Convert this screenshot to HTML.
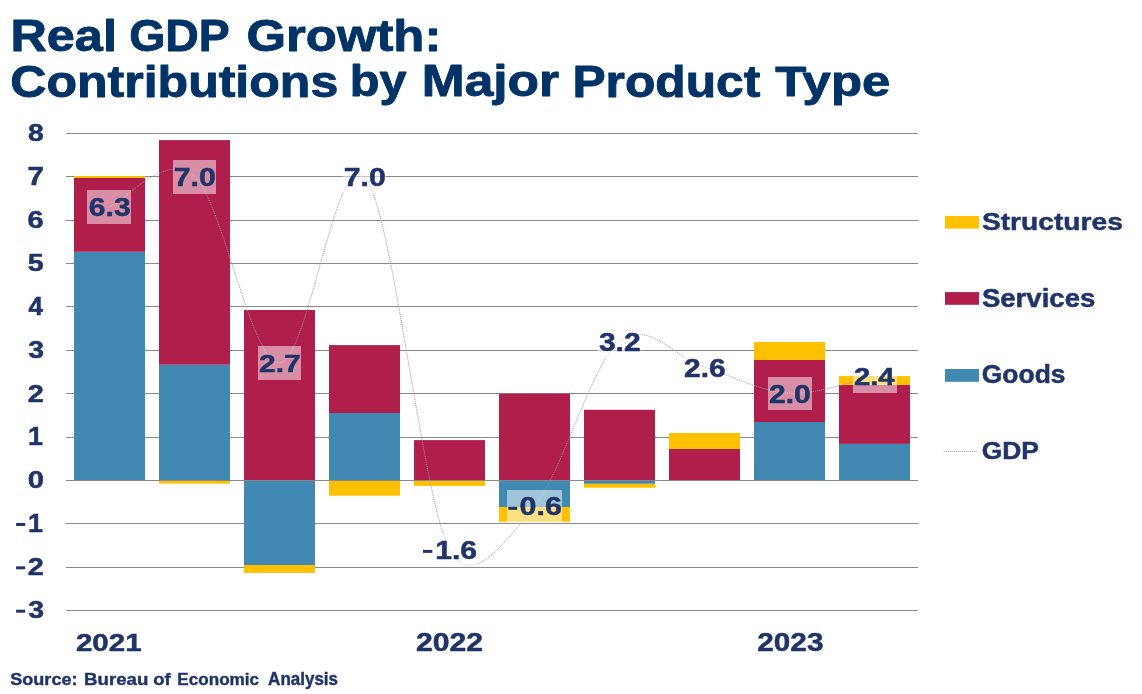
<!DOCTYPE html>
<html><head><meta charset="utf-8"><style>
html,body{margin:0;padding:0;background:#fff;width:1142px;height:694px;overflow:hidden}
svg{display:block;will-change:transform}
text{font-family:"Liberation Sans",sans-serif;font-weight:bold}
</style></head><body>
<svg width="1142" height="694" viewBox="0 0 1142 694">
<rect width="1142" height="694" fill="#fff"/>
<rect x="66" y="133" width="852" height="1" fill="#898989"/>
<rect x="66" y="176" width="852" height="1" fill="#898989"/>
<rect x="66" y="220" width="852" height="1" fill="#898989"/>
<rect x="66" y="263" width="852" height="1" fill="#898989"/>
<rect x="66" y="306" width="852" height="1" fill="#898989"/>
<rect x="66" y="350" width="852" height="1" fill="#898989"/>
<rect x="66" y="393" width="852" height="1" fill="#898989"/>
<rect x="66" y="437" width="852" height="1" fill="#898989"/>
<rect x="66" y="523" width="852" height="1" fill="#898989"/>
<rect x="66" y="567" width="852" height="1" fill="#898989"/>
<rect x="66" y="610" width="852" height="1" fill="#898989"/>
<rect x="74.00" y="251.80" width="71.00" height="228.20" fill="#4189b2" />
<rect x="74.00" y="178.00" width="71.00" height="73.80" fill="#b01e4c" />
<rect x="74.00" y="176.00" width="71.00" height="2.00" fill="#ffc000" />
<rect x="159.00" y="364.70" width="71.00" height="115.30" fill="#4189b2" />
<rect x="159.00" y="140.10" width="71.00" height="224.60" fill="#b01e4c" />
<rect x="159.00" y="480.00" width="71.00" height="3.70" fill="#ffc000" />
<rect x="244.00" y="310.00" width="71.00" height="170.00" fill="#b01e4c" />
<rect x="244.00" y="480.00" width="71.00" height="85.00" fill="#4189b2" />
<rect x="244.00" y="565.00" width="71.00" height="7.90" fill="#ffc000" />
<rect x="329.00" y="413.00" width="71.00" height="67.00" fill="#4189b2" />
<rect x="329.00" y="345.10" width="71.00" height="67.90" fill="#b01e4c" />
<rect x="329.00" y="480.00" width="71.00" height="15.70" fill="#ffc000" />
<rect x="414.00" y="440.10" width="71.00" height="39.90" fill="#b01e4c" />
<rect x="414.00" y="480.00" width="71.00" height="5.90" fill="#ffc000" />
<rect x="499.00" y="393.70" width="71.00" height="86.30" fill="#b01e4c" />
<rect x="499.00" y="480.00" width="71.00" height="27.00" fill="#4189b2" />
<rect x="499.00" y="507.00" width="71.00" height="14.80" fill="#ffc000" />
<rect x="584.00" y="409.80" width="71.00" height="70.20" fill="#b01e4c" />
<rect x="584.00" y="480.00" width="71.00" height="3.80" fill="#4189b2" />
<rect x="584.00" y="483.80" width="71.00" height="3.90" fill="#ffc000" />
<rect x="669.00" y="448.90" width="71.00" height="31.10" fill="#b01e4c" />
<rect x="669.00" y="433.00" width="71.00" height="15.90" fill="#ffc000" />
<rect x="754.00" y="422.00" width="71.00" height="58.00" fill="#4189b2" />
<rect x="754.00" y="360.00" width="71.00" height="62.00" fill="#b01e4c" />
<rect x="754.00" y="342.00" width="71.00" height="18.00" fill="#ffc000" />
<rect x="839.00" y="443.90" width="71.00" height="36.10" fill="#4189b2" />
<rect x="839.00" y="384.90" width="71.00" height="59.00" fill="#b01e4c" />
<rect x="839.00" y="376.10" width="71.00" height="8.80" fill="#ffc000" />
<rect x="66" y="480" width="852" height="1" fill="#898989"/>
<path d="M109.50,206.81 C123.67,201.75 166.17,150.43 194.50,176.45 C222.83,202.47 251.17,362.92 279.50,362.92 C307.83,362.92 336.17,145.37 364.50,176.45 C392.83,207.53 421.17,494.45 449.50,549.38 C471.37,591.78 506.17,540.71 534.50,506.02 C562.83,471.33 591.17,364.36 619.50,341.24 C647.83,318.11 676.17,358.58 704.50,367.25 C732.83,375.93 761.17,391.83 789.50,393.27 C817.83,394.72 860.33,378.82 874.50,375.93" fill="none" stroke="#999999" stroke-width="1" stroke-dasharray="1 1"/>
<rect x="87.00" y="190.00" width="44.00" height="34.00" fill="rgba(255,255,255,0.5)" />
<rect x="173.00" y="160.00" width="43.00" height="34.00" fill="rgba(255,255,255,0.5)" />
<rect x="258.00" y="346.00" width="43.00" height="34.00" fill="rgba(255,255,255,0.5)" />
<rect x="343.00" y="160.00" width="43.00" height="34.00" fill="rgba(255,255,255,0.5)" />
<rect x="422.00" y="533.00" width="55.00" height="34.00" fill="rgba(255,255,255,0.5)" />
<rect x="507.00" y="490.00" width="55.00" height="33.00" fill="rgba(255,255,255,0.5)" />
<rect x="598.00" y="325.00" width="43.00" height="33.00" fill="rgba(255,255,255,0.5)" />
<rect x="683.00" y="351.00" width="43.00" height="33.00" fill="rgba(255,255,255,0.5)" />
<rect x="768.00" y="377.00" width="44.00" height="33.00" fill="rgba(255,255,255,0.5)" />
<rect x="853.00" y="359.00" width="44.00" height="34.00" fill="rgba(255,255,255,0.5)" />
<text transform="translate(88.850,215.553) scale(1.18521,1)" font-size="25.371" fill="#1f3469" stroke="#1f3469" stroke-width="0.500" stroke-linejoin="round">6.3</text>
<text transform="translate(173.819,185.692) scale(1.19230,1)" font-size="25.335" fill="#1f3469" stroke="#1f3469" stroke-width="0.500" stroke-linejoin="round">7.0</text>
<text transform="translate(259.063,371.927) scale(1.23403,1)" font-size="24.309" fill="#1f3469" stroke="#1f3469" stroke-width="0.500" stroke-linejoin="round">2.7</text>
<text transform="translate(343.819,185.692) scale(1.19230,1)" font-size="25.335" fill="#1f3469" stroke="#1f3469" stroke-width="0.500" stroke-linejoin="round">7.0</text>
<rect x="423.00" y="549.88" width="9.30" height="3.00" fill="#1f3469" />
<text transform="translate(435.335,558.620) scale(1.18478,1)" font-size="25.335" fill="#1f3469" stroke="#1f3469" stroke-width="0.500" stroke-linejoin="round">1.6</text>
<rect x="508.30" y="506.82" width="8.90" height="3.00" fill="#1f3469" />
<text transform="translate(519.563,514.761) scale(1.19779,1)" font-size="25.385" fill="#1f3469" stroke="#1f3469" stroke-width="0.500" stroke-linejoin="round">0.6</text>
<text transform="translate(598.904,350.978) scale(1.18464,1)" font-size="25.364" fill="#1f3469" stroke="#1f3469" stroke-width="0.500" stroke-linejoin="round">3.2</text>
<text transform="translate(684.035,376.999) scale(1.17929,1)" font-size="25.371" fill="#1f3469" stroke="#1f3469" stroke-width="0.500" stroke-linejoin="round">2.6</text>
<text transform="translate(769.029,402.516) scale(1.18319,1)" font-size="25.364" fill="#1f3469" stroke="#1f3469" stroke-width="0.500" stroke-linejoin="round">2.0</text>
<text transform="translate(853.912,384.936) scale(1.20651,1)" font-size="24.309" fill="#1f3469" stroke="#1f3469" stroke-width="0.500" stroke-linejoin="round">2.4</text>
<text transform="translate(28.041,140.766) scale(1.16730,1)" font-size="24.288" fill="#1f3469" stroke="#1f3469" stroke-width="0.500" stroke-linejoin="round">8</text>
<text transform="translate(27.541,184.844) scale(1.18898,1)" font-size="24.908" fill="#1f3469" stroke="#1f3469" stroke-width="0.500" stroke-linejoin="round">7</text>
<text transform="translate(27.580,227.996) scale(1.19182,1)" font-size="24.288" fill="#1f3469" stroke="#1f3469" stroke-width="0.500" stroke-linejoin="round">6</text>
<text transform="translate(27.672,270.840) scale(1.16290,1)" font-size="24.587" fill="#1f3469" stroke="#1f3469" stroke-width="0.500" stroke-linejoin="round">5</text>
<text transform="translate(28.453,314.936) scale(1.04177,1)" font-size="24.908" fill="#1f3469" stroke="#1f3469" stroke-width="0.500" stroke-linejoin="round">4</text>
<text transform="translate(28.165,357.580) scale(1.17252,1)" font-size="24.275" fill="#1f3469" stroke="#1f3469" stroke-width="0.500" stroke-linejoin="round">3</text>
<text transform="translate(27.744,401.674) scale(1.17564,1)" font-size="24.587" fill="#1f3469" stroke="#1f3469" stroke-width="0.500" stroke-linejoin="round">2</text>
<text transform="translate(27.968,444.529) scale(1.07501,1)" font-size="24.908" fill="#1f3469" stroke="#1f3469" stroke-width="0.500" stroke-linejoin="round">1</text>
<text transform="translate(27.676,487.689) scale(1.20264,1)" font-size="24.323" fill="#1f3469" stroke="#1f3469" stroke-width="0.500" stroke-linejoin="round">0</text>
<text transform="translate(27.968,531.755) scale(1.07501,1)" font-size="24.908" fill="#1f3469" stroke="#1f3469" stroke-width="0.500" stroke-linejoin="round">1</text>
<rect x="16.10" y="522.96" width="9.10" height="3.00" fill="#1f3469" />
<text transform="translate(27.744,574.630) scale(1.17564,1)" font-size="24.587" fill="#1f3469" stroke="#1f3469" stroke-width="0.500" stroke-linejoin="round">2</text>
<rect x="16.10" y="566.33" width="9.10" height="3.00" fill="#1f3469" />
<text transform="translate(28.165,617.766) scale(1.17252,1)" font-size="24.275" fill="#1f3469" stroke="#1f3469" stroke-width="0.500" stroke-linejoin="round">3</text>
<rect x="16.10" y="609.69" width="9.10" height="3.00" fill="#1f3469" />
<text transform="translate(75.919,650.600) scale(1.19193,1)" font-size="24.783" fill="#1f3469" stroke="#1f3469" stroke-width="0.500" stroke-linejoin="round">2021</text>
<text transform="translate(416.029,650.883) scale(1.17622,1)" font-size="25.651" fill="#1f3469" stroke="#1f3469" stroke-width="0.500" stroke-linejoin="round">2022</text>
<text transform="translate(757.318,650.883) scale(1.15929,1)" font-size="25.651" fill="#1f3469" stroke="#1f3469" stroke-width="0.500" stroke-linejoin="round">2023</text>
<text transform="translate(10.433,50.875) scale(1.12047,1)" font-size="44.985" fill="#003366" stroke="#003366" stroke-width="0.900" stroke-linejoin="round">Real</text>
<text transform="translate(129.137,50.823) scale(1.03494,1)" font-size="44.854" fill="#003366" stroke="#003366" stroke-width="0.900" stroke-linejoin="round">GDP</text>
<text transform="translate(246.482,50.875) scale(1.13061,1)" font-size="44.985" fill="#003366" stroke="#003366" stroke-width="0.900" stroke-linejoin="round">Growth:</text>
<text transform="translate(10.317,96.896) scale(1.13275,1)" font-size="44.180" fill="#003366" stroke="#003366" stroke-width="0.900" stroke-linejoin="round">Contributions</text>
<text transform="translate(349.743,95.802) scale(1.10608,1)" font-size="43.908" fill="#003366" stroke="#003366" stroke-width="0.900" stroke-linejoin="round">by</text>
<text transform="translate(421.833,95.802) scale(1.17191,1)" font-size="43.908" fill="#003366" stroke="#003366" stroke-width="0.900" stroke-linejoin="round">Major</text>
<text transform="translate(572.421,96.896) scale(1.12574,1)" font-size="44.180" fill="#003366" stroke="#003366" stroke-width="0.900" stroke-linejoin="round">Product</text>
<text transform="translate(775.348,95.660) scale(1.17343,1)" font-size="43.331" fill="#003366" stroke="#003366" stroke-width="0.900" stroke-linejoin="round">Type</text>
<text transform="translate(10.255,684.747) scale(1.09443,1)" font-size="16.516" fill="#1f3469" stroke="#1f3469" stroke-width="0.400" stroke-linejoin="round">Source:</text>
<text transform="translate(84.039,684.655) scale(1.14830,1)" font-size="16.253" fill="#1f3469" stroke="#1f3469" stroke-width="0.400" stroke-linejoin="round">Bureau</text>
<text transform="translate(153.205,684.942) scale(1.08346,1)" font-size="17.079" fill="#1f3469" stroke="#1f3469" stroke-width="0.400" stroke-linejoin="round">of</text>
<text transform="translate(177.339,684.929) scale(1.00443,1)" font-size="17.039" fill="#1f3469" stroke="#1f3469" stroke-width="0.400" stroke-linejoin="round">Economic</text>
<text transform="translate(268.098,684.511) scale(0.97543,1)" font-size="17.448" fill="#1f3469" stroke="#1f3469" stroke-width="0.400" stroke-linejoin="round">Analysis</text>
<rect x="945.00" y="216.00" width="34.00" height="12.60" fill="#ffc000" />
<rect x="945.00" y="292.10" width="34.00" height="12.70" fill="#b01e4c" />
<rect x="945.00" y="369.00" width="34.00" height="12.80" fill="#4189b2" />
<line x1="943.7" y1="451.5" x2="977" y2="451.5" stroke="#999999" stroke-width="1" stroke-dasharray="1 1"/>
<text transform="translate(981.924,229.954) scale(1.13681,1)" font-size="24.802" fill="#1f3469" stroke="#1f3469" stroke-width="0.500" stroke-linejoin="round">Structures</text>
<text transform="translate(981.887,306.901) scale(1.10013,1)" font-size="25.068" fill="#1f3469" stroke="#1f3469" stroke-width="0.500" stroke-linejoin="round">Services</text>
<text transform="translate(981.825,382.699) scale(1.05396,1)" font-size="25.068" fill="#1f3469" stroke="#1f3469" stroke-width="0.500" stroke-linejoin="round">Goods</text>
<text transform="translate(981.656,458.750) scale(1.09211,1)" font-size="24.206" fill="#1f3469" stroke="#1f3469" stroke-width="0.500" stroke-linejoin="round">GDP</text>
</svg>
</body></html>
